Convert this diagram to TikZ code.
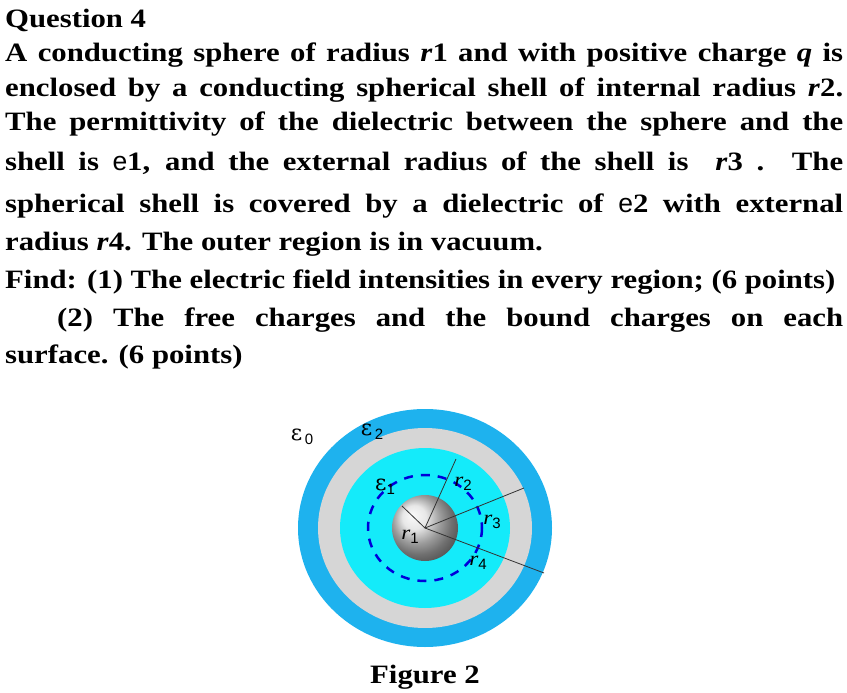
\documentclass[tikz,border=0pt]{standalone}
\usepackage{fontspec}
\setmainfont[FakeStretch=1.16]{Liberation Serif}
\newfontfamily\arialf{Liberation Sans}
\newfontfamily\epsf{DejaVu Serif}
\definecolor{outerb}{RGB}{30,178,238}
\definecolor{innerc}{RGB}{20,235,250}
\definecolor{band}{RGB}{214,214,214}
\begin{document}
\begin{tikzpicture}[x=1pt,y=-1pt,
  ln/.style={anchor=base west,inner sep=0pt,font=\fontsize{26.5}{30}\selectfont\bfseries},
  lab/.style={inner sep=0pt,font=\fontsize{20}{22}\selectfont\arialf}]
\useasboundingbox (0,0) rectangle (847,693);
\newcommand\jl[1]{\makebox[838pt][s]{#1}}
\newcommand\sbs[1]{\raisebox{-4pt}{\fontsize{15}{16}\selectfont #1}}
\newcommand\rr[1]{{\rmfamily\mdseries\itshape r}\sbs{#1}}
\newcommand\ee[1]{{\epsf\fontsize{22}{22}\selectfont ε}\sbs{#1}}
\node[ln] (l1) at (5,28) {Question 4};
\node[ln] (l2) at (5,62) {\jl{A conducting sphere of radius \textit{r}1 and with positive charge \textit{q} is}};
\node[ln] (l3) at (5,96) {\jl{enclosed by a conducting spherical shell of internal radius \textit{r}2.}};
\node[ln] (l4) at (5,131) {\jl{The permittivity of the dielectric between the sphere and the}};
\node[ln] (l5) at (5,170) {\jl{shell is {\mdseries\arialf e}1, and the external radius of the shell is \ \textit{r}3 . The}};
\node[ln] (l6) at (5,212) {\jl{spherical shell is covered by a dielectric of {\mdseries\arialf e}2 with external}};
\node[ln] (l7) at (5,250) {radius \textit{r}4. The outer region is in vacuum.};
\node[ln] (l8) at (5,288) {Find: (1) The electric field intensities in every region; (6 points)};
\node[ln] (l9) at (5,326) {\makebox[838pt][s]{\hspace*{52pt}(2) The free charges and the bound charges on each}};
\node[ln] (l10) at (5,363) {surface. (6 points)};
\node[ln] (fig) at (370,683) {Figure 2};
\coordinate (c) at (425,528);
\fill[outerb] (c) ellipse [x radius=127,y radius=119];
\fill[band] (c) ellipse [x radius=107,y radius=100];
\fill[innerc] (c) ellipse [x radius=85,y radius=80];
\shade[ball color=gray!25] (c) circle (33);
\draw[blue!85!black,line width=2.5pt,dash pattern=on 9pt off 8pt] (c) ellipse [x radius=57,y radius=53];
\coordinate (e1) at (456,459); \coordinate (e2) at (524,488);
\coordinate (e3) at (544,573); \coordinate (e4) at (402,506);
\foreach \e in {e1,e2,e3,e4} \draw[black!80,line width=0.8pt] (c) -- (\e);
\node[lab] (t0) at (302,437) {\ee{\,0}};
\node[lab] (t2) at (372,432) {\ee{\,2}};
\node[lab] (t1) at (385,487) {\ee{1}};
\node[lab] (r2) at (463,484) {\rr{2}};
\node[lab] (r3) at (492,522) {\rr{3}};
\node[lab] (r1) at (410,537) {\rr{1}};
\node[lab] (r4) at (478,563) {\rr{4}};
\end{tikzpicture}
\end{document}
